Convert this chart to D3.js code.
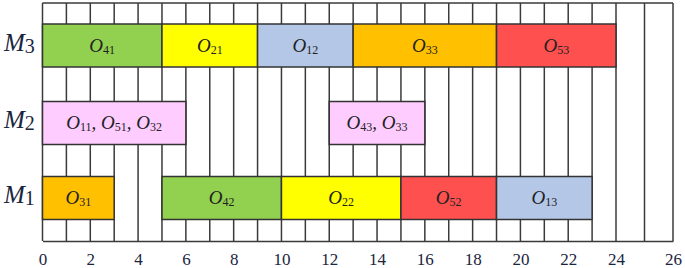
<!DOCTYPE html>
<html>
<head>
<meta charset="utf-8">
<script src="https://cdn.jsdelivr.net/npm/d3@7"></script>
<style>
  body { margin: 0; background: #fff; }
  svg { display: block; }
  svg text { font-family: "Liberation Serif", "Times New Roman", Times, serif; }
  .tick text { font-size: 17px; fill: #1a2540; }
</style>
</head>
<body>
<div id="chart"></div>
<script>
// machines, top to bottom
const machines = ["3", "2", "1"];

// operations: machine, start, end, subscripts, colour key
const ops = [
  { m: "3", start: 0, end: 5, label: ["41"], color: "green" },
  { m: "3", start: 5, end: 9, label: ["21"], color: "yellow" },
  { m: "3", start: 9, end: 13, label: ["12"], color: "blue" },
  { m: "3", start: 13, end: 19, label: ["33"], color: "orange" },
  { m: "3", start: 19, end: 24, label: ["53"], color: "red" },
  { m: "2", start: 0, end: 6, label: ["11", "51", "32"], color: "pink" },
  { m: "2", start: 12, end: 16, label: ["43", "33"], color: "pink" },
  { m: "1", start: 0, end: 3, label: ["31"], color: "orange" },
  { m: "1", start: 5, end: 10, label: ["42"], color: "green" },
  { m: "1", start: 10, end: 15, label: ["22"], color: "yellow" },
  { m: "1", start: 15, end: 19, label: ["52"], color: "red" },
  { m: "1", start: 19, end: 23, label: ["13"], color: "blue" }
];

const tickValues = d3.range(0, 27, 2);
const gridValues = d3.range(0, 27, 1);

const palette = {
  green: "#92d050",
  yellow: "#ffff00",
  blue: "#b4c7e7",
  orange: "#ffc000",
  red: "#ff5050",
  pink: "#ffccff"
};

const width = 685, height = 268;
const topY = 3, axisY = 241;

const svg = d3.select("#chart").append("svg")
  .attr("width", width)
  .attr("height", height);

// the last two columns are drawn a bit wider in the original
const x = d3.scaleLinear().domain([0, 24, 26]).range([42.5, 616, 673]);
const rowCenter = { "3": 45.5, "2": 123, "1": 198 };
const barH = 43;

// vertical grid
svg.append("g").selectAll("line")
  .data(gridValues)
  .join("line")
  .attr("x1", d => x(d)).attr("x2", d => x(d))
  .attr("y1", topY).attr("y2", axisY)
  .attr("stroke", "#3a3a3a")
  .attr("stroke-width", 1.5);

// top border
svg.append("line")
  .attr("x1", x(0)).attr("x2", x(26))
  .attr("y1", topY).attr("y2", topY)
  .attr("stroke", "#3a3a3a").attr("stroke-width", 1.5);

// bottom axis
const axis = svg.append("g")
  .attr("transform", `translate(0,${axisY})`)
  .call(d3.axisBottom(x).tickValues(tickValues).tickSize(0).tickPadding(12));
axis.select(".domain").attr("stroke", "#3a3a3a").attr("stroke-width", 1.5);

// bars
svg.append("g").selectAll("rect")
  .data(ops)
  .join("rect")
  .attr("x", d => x(d.start))
  .attr("y", d => rowCenter[d.m] - barH / 2)
  .attr("width", d => x(d.end) - x(d.start))
  .attr("height", barH)
  .attr("fill", d => palette[d.color])
  .attr("stroke", "#333")
  .attr("stroke-width", 1.5);

// bar labels
const labels = svg.append("g").selectAll("text")
  .data(ops)
  .join("text")
  .attr("x", d => (x(d.start) + x(d.end)) / 2)
  .attr("y", d => rowCenter[d.m] + 6)
  .attr("text-anchor", "middle")
  .attr("fill", "#222");

labels.each(function (d) {
  const t = d3.select(this);
  d.label.forEach((sub, i) => {
    t.append("tspan")
      .attr("font-style", "italic")
      .attr("font-size", 19)
      .attr("dy", i === 0 ? 0 : -2)
      .text((i === 0 ? "" : ", ") + "O");
    t.append("tspan")
      .attr("font-size", 12)
      .attr("dy", 2)
      .text(sub);
  });
});

// machine labels
const mLabels = svg.append("g").selectAll("text")
  .data(machines)
  .join("text")
  .attr("x", 4)
  .attr("y", d => rowCenter[d] + 5)
  .attr("fill", "#1a2540");
mLabels.append("tspan")
  .attr("font-style", "italic")
  .attr("font-size", 25)
  .text("M");
mLabels.append("tspan")
  .attr("font-size", 20)
  .attr("dy", 2)
  .text(d => d);
</script>
</body>
</html>
